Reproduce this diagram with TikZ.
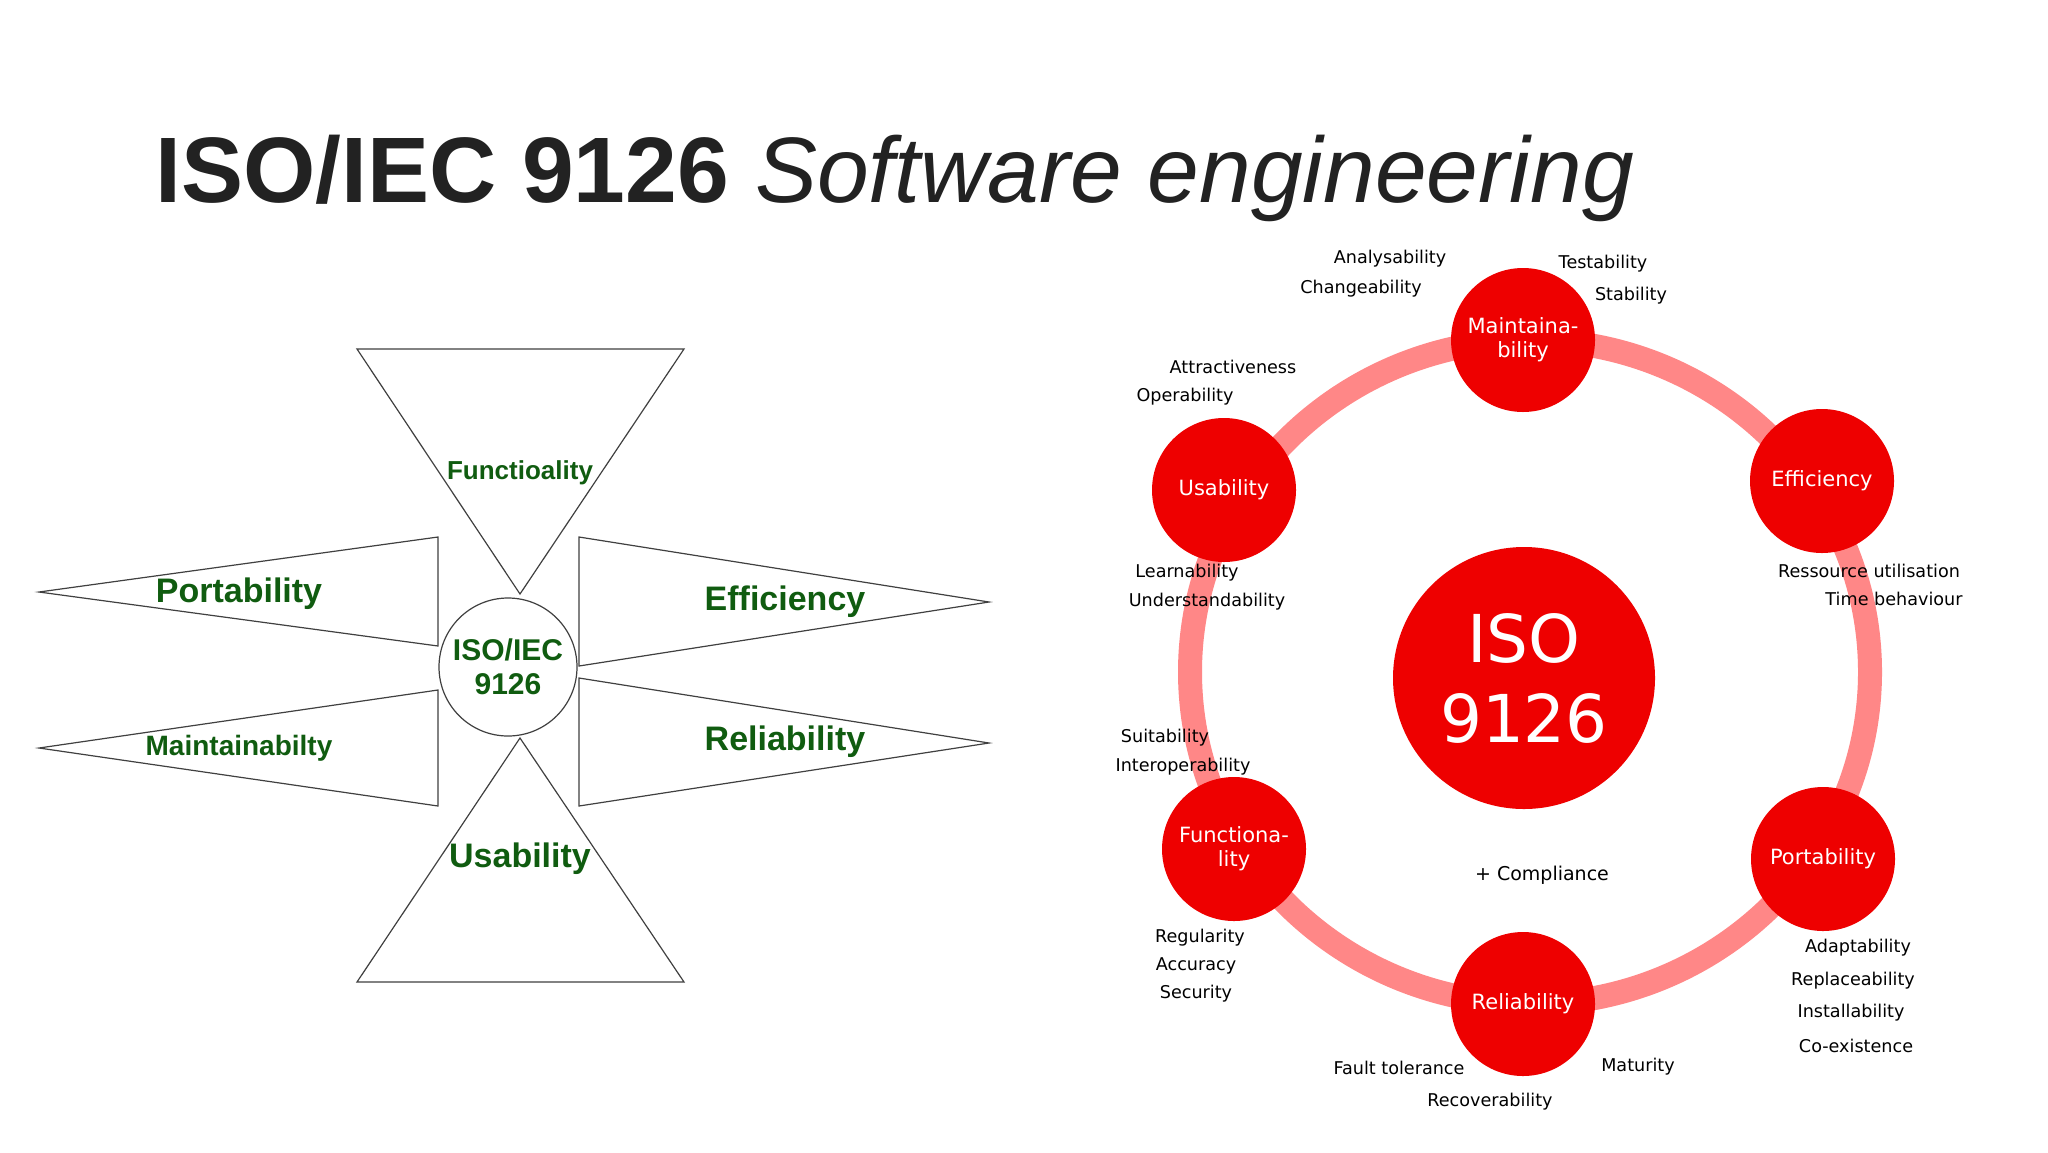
\documentclass[tikz,border=0pt]{standalone}
\usepackage{fontspec}
\setmainfont{Liberation Sans}
\newfontfamily\dv{DejaVu Sans}
\definecolor{dgreen}{RGB}{16,92,16}
\definecolor{ired}{RGB}{238,0,0}
\definecolor{ring}{RGB}{255,135,135}
\definecolor{ttl}{RGB}{34,34,34}
\tikzset{
  tri/.style={draw=black!75, line width=0.6pt, fill=white},
  glab/.style={text=dgreen, font=\bfseries\fontsize{#1}{#1}\selectfont, inner sep=0pt},
  sat/.style={circle, fill=ired, minimum size=72pt, inner sep=0pt, text=white, align=center, font=\dv\fontsize{10.5}{12}\selectfont},
  sml/.style={font=\dv\fontsize{8.8}{10}\selectfont, inner sep=0pt, text=black}
}
\begin{document}
\begin{tikzpicture}[x=0.5pt,y=-0.5pt]
\useasboundingbox (0,0) rectangle (2048,1152);
\fill[white] (0,0) rectangle (2048,1152);
% title
\node[anchor=base west, text=ttl, inner sep=0pt, font=\fontsize{46.5}{52}\selectfont] (title) at (155,202) {\textbf{ISO/IEC 9126} \textit{Software engineering}};
% left diagram
\draw[tri] (357,349) -- (684,349) -- (520,594) -- cycle;
\draw[tri] (39,592) -- (438,537) -- (438,646) -- cycle;
\draw[tri] (39,748) -- (438,690) -- (438,806) -- cycle;
\draw[tri] (989,602) -- (579,537) -- (579,666) -- cycle;
\draw[tri] (989,743) -- (579,678) -- (579,806) -- cycle;
\draw[tri] (520,738) -- (357,982) -- (684,982) -- cycle;
\node[circle, draw=black!75, line width=0.6pt, fill=white, minimum size=69pt, inner sep=0pt, align=center, text=dgreen, font=\bfseries\fontsize{15}{17}\selectfont] (iec) at (508,667) {ISO/IEC\\9126};
\node[glab=13] (lf) at (520,473) {Functioality};
\node[glab=17] (lp) at (239,594) {Portability};
\node[glab=14] (lm) at (239,748) {Maintainabilty};
\node[glab=17] (le) at (785,602) {Efficiency};
\node[glab=17] (lr) at (785,742) {Reliability};
\node[glab=17] (lu) at (520,859) {Usability};
% right diagram
\draw[ring, line width=12pt] (1530,672) ellipse [x radius=340, y radius=332];
\node[circle, fill=ired, minimum size=131pt, inner sep=0pt, text=white, align=center, font=\dv\fontsize{33}{40}\selectfont] (iso) at (1524,678) {ISO\\9126};
\node[sat] (sm) at (1523,340) {Maintaina-\\bility};
\node[sat] (se) at (1822,481) {Efficiency};
\node[sat] (sp) at (1823,859) {Portability};
\node[sat] (sr) at (1523,1004) {Reliability};
\node[sat] (sf) at (1234,849) {Functiona-\\lity};
\node[sat] (su) at (1224,490) {Usability};
\node[sml] (a1) at (1390,259) {Analysability};
\node[sml] (a2) at (1361,289) {Changeability};
\node[sml] (a3) at (1603,264) {Testability};
\node[sml] (a4) at (1631,296) {Stability};
\node[sml] (b1) at (1233,367) {Attractiveness};
\node[sml] (b2) at (1185,397) {Operability};
\node[sml] (b3) at (1187,573) {Learnability};
\node[sml] (b4) at (1207,602) {Understandability};
\node[sml] (c1) at (1869,571) {Ressource utilisation};
\node[sml] (c2) at (1894,599) {Time behaviour};
\node[sml] (d1) at (1165,738) {Suitability};
\node[sml] (d2) at (1183,767) {Interoperability};
\node[sml] (d3) at (1200,938) {Regularity};
\node[sml] (d4) at (1196,966) {Accuracy};
\node[sml] (d5) at (1196,994) {Security};
\node[sml, font=\dv\fontsize{9.5}{11}\selectfont] (cp) at (1542,875) {+ Compliance};
\node[sml] (e1) at (1858,948) {Adaptability};
\node[sml] (e2) at (1853,981) {Replaceability};
\node[sml] (e3) at (1851,1013) {Installability};
\node[sml] (e4) at (1856,1046) {Co-existence};
\node[sml] (f1) at (1399,1068) {Fault tolerance};
\node[sml] (f2) at (1490,1102) {Recoverability};
\node[sml] (f3) at (1638,1067) {Maturity};
\end{tikzpicture}
\end{document}
